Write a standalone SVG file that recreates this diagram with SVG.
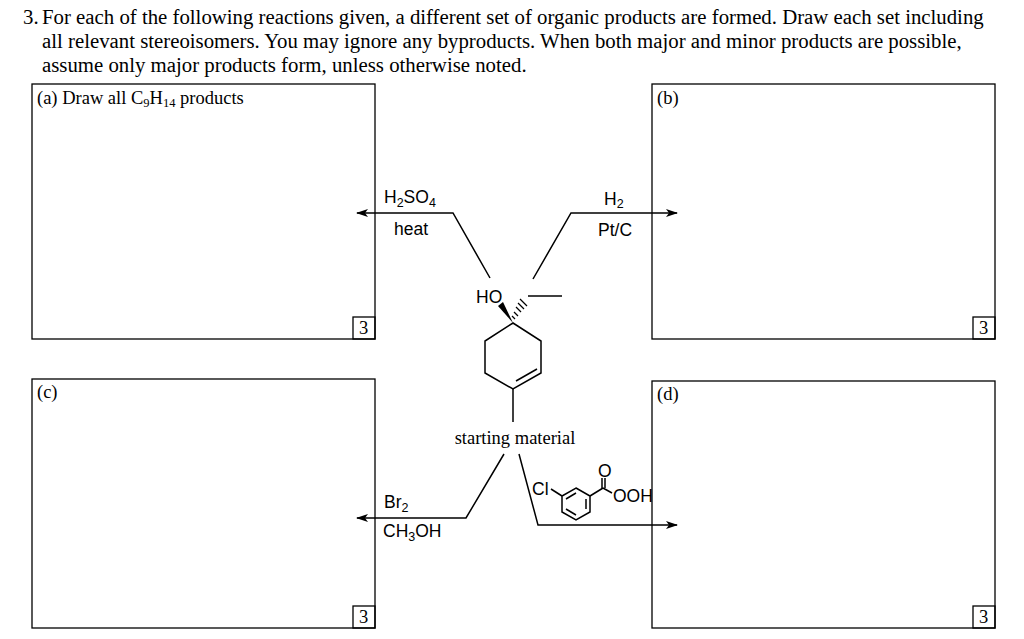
<svg xmlns="http://www.w3.org/2000/svg" width="1024" height="639" viewBox="0 0 1024 639">
<style>
.t{font-family:"Liberation Serif",serif;font-size:20.8px;fill:#000}
.s{font-family:"Liberation Serif",serif;font-size:18.5px;fill:#000}
.a{font-family:"Liberation Sans",sans-serif;font-size:17.5px;fill:#000}
.box{fill:none;stroke:#000;stroke-width:1.3}
.ln{fill:none;stroke:#000;stroke-width:1.5}
</style>
<defs><marker id="ah" markerWidth="12" markerHeight="8" refX="11" refY="4" orient="auto" markerUnits="userSpaceOnUse"><path d="M0,0 L12,4 L0,8 L3,4 Z" fill="#000"/></marker></defs>
<rect width="1024" height="639" fill="#fff"/>
<text class="t" x="23" y="24">3.</text>
<text class="t" x="42" y="24">For each of the following reactions given, a different set of organic products are formed. Draw each set including</text>
<text class="t" x="42" y="48">all relevant stereoisomers. You may ignore any byproducts. When both major and minor products are possible,</text>
<text class="t" x="42" y="72">assume only major products form, unless otherwise noted.</text>
<g id="boxA"><rect class="box" x="32" y="84" width="343" height="255"/><text class="s" x="37" y="104" font-size="19.3">(a) Draw all C<tspan font-size="12.5" dy="3">9</tspan><tspan dy="-3">H</tspan><tspan font-size="12.5" dy="3">14</tspan><tspan dy="-3"> products</tspan></text><rect class="box" x="353" y="317" width="22" height="22"/><text class="s" x="359" y="334">3</text></g>
<g id="boxB"><rect class="box" x="652" y="84" width="343" height="255"/><text class="s" x="657" y="104">(b)</text><rect class="box" x="973" y="317" width="22" height="22"/><text class="s" x="979" y="334">3</text></g>
<g id="boxC"><rect class="box" x="32" y="379" width="343" height="249"/><text class="s" x="37" y="398">(c)</text><rect class="box" x="353" y="606" width="22" height="22"/><text class="s" x="359" y="623">3</text></g>
<g id="boxD"><rect class="box" x="652" y="381" width="343" height="247"/><text class="s" x="657" y="400">(d)</text><rect class="box" x="973" y="606" width="22" height="22"/><text class="s" x="979" y="623">3</text></g>
<g id="connectors">
<polyline class="ln" points="490,278 453,213 357,213" marker-end="url(#ah)"/>
<polyline class="ln" points="533,279 571,213 677,213" marker-end="url(#ah)"/>
<polyline class="ln" points="504,454 466,518 357,518" marker-end="url(#ah)"/>
<polyline class="ln" points="519,454 538,525 677,525" marker-end="url(#ah)"/>
</g>
<g id="labels">
<text class="a" x="384" y="203">H<tspan font-size="12.5" dy="4">2</tspan><tspan dy="-4">SO</tspan><tspan font-size="12.5" dy="4">4</tspan></text>
<text class="a" x="394" y="235">heat</text>
<text class="a" x="604" y="205">H<tspan font-size="12.5" dy="3">2</tspan></text>
<text class="a" x="598" y="236">Pt/C</text>
<text class="a" x="384" y="508">Br<tspan font-size="12.5" dy="4">2</tspan></text>
<text class="a" x="383" y="537">CH<tspan font-size="12.5" dy="4">3</tspan><tspan dy="-4">OH</tspan></text>
</g>
<g id="startingMaterial">
<text class="a" x="476" y="303">HO</text>
<path d="M513,323 L498,306 L503,302 Z" fill="#000"/>
<g stroke="#000" stroke-width="1.2">
<line x1="515" y1="319" x2="512" y2="316"/>
<line x1="518" y1="316" x2="514" y2="312"/>
<line x1="521" y1="312" x2="516" y2="307"/>
<line x1="524" y1="309" x2="518" y2="303"/>
<line x1="527" y1="306" x2="520" y2="299"/>
</g>
<polyline class="ln" points="528,296 562,296"/>
<polygon class="ln" points="513,323 541,341 541,373 513,389 485,373 485,341"/>
<line class="ln" x1="537" y1="369" x2="516" y2="381"/>
<line class="ln" x1="513" y1="389" x2="513" y2="422"/>
<text class="s" x="515" y="444" text-anchor="middle">starting material</text>
</g>
<g id="mcpba">
<polygon class="ln" points="576,488 590,496 590,512 576,520 562,512 562,496"/>
<line class="ln" x1="586" y1="499" x2="586" y2="509"/>
<line class="ln" x1="566" y1="509" x2="576" y2="515"/>
<line class="ln" x1="566" y1="499" x2="576" y2="493"/>
<line class="ln" x1="562" y1="496" x2="551" y2="489"/>
<text class="a" x="532" y="495">Cl</text>
<line class="ln" x1="590" y1="496" x2="603" y2="488"/>
<line class="ln" x1="602" y1="488" x2="602" y2="478"/>
<line class="ln" x1="605" y1="488" x2="605" y2="478"/>
<text class="a" x="598" y="477">O</text>
<line class="ln" x1="603" y1="488" x2="612" y2="493"/>
<text class="a" x="613" y="502">OOH</text>
</g>
</svg>
